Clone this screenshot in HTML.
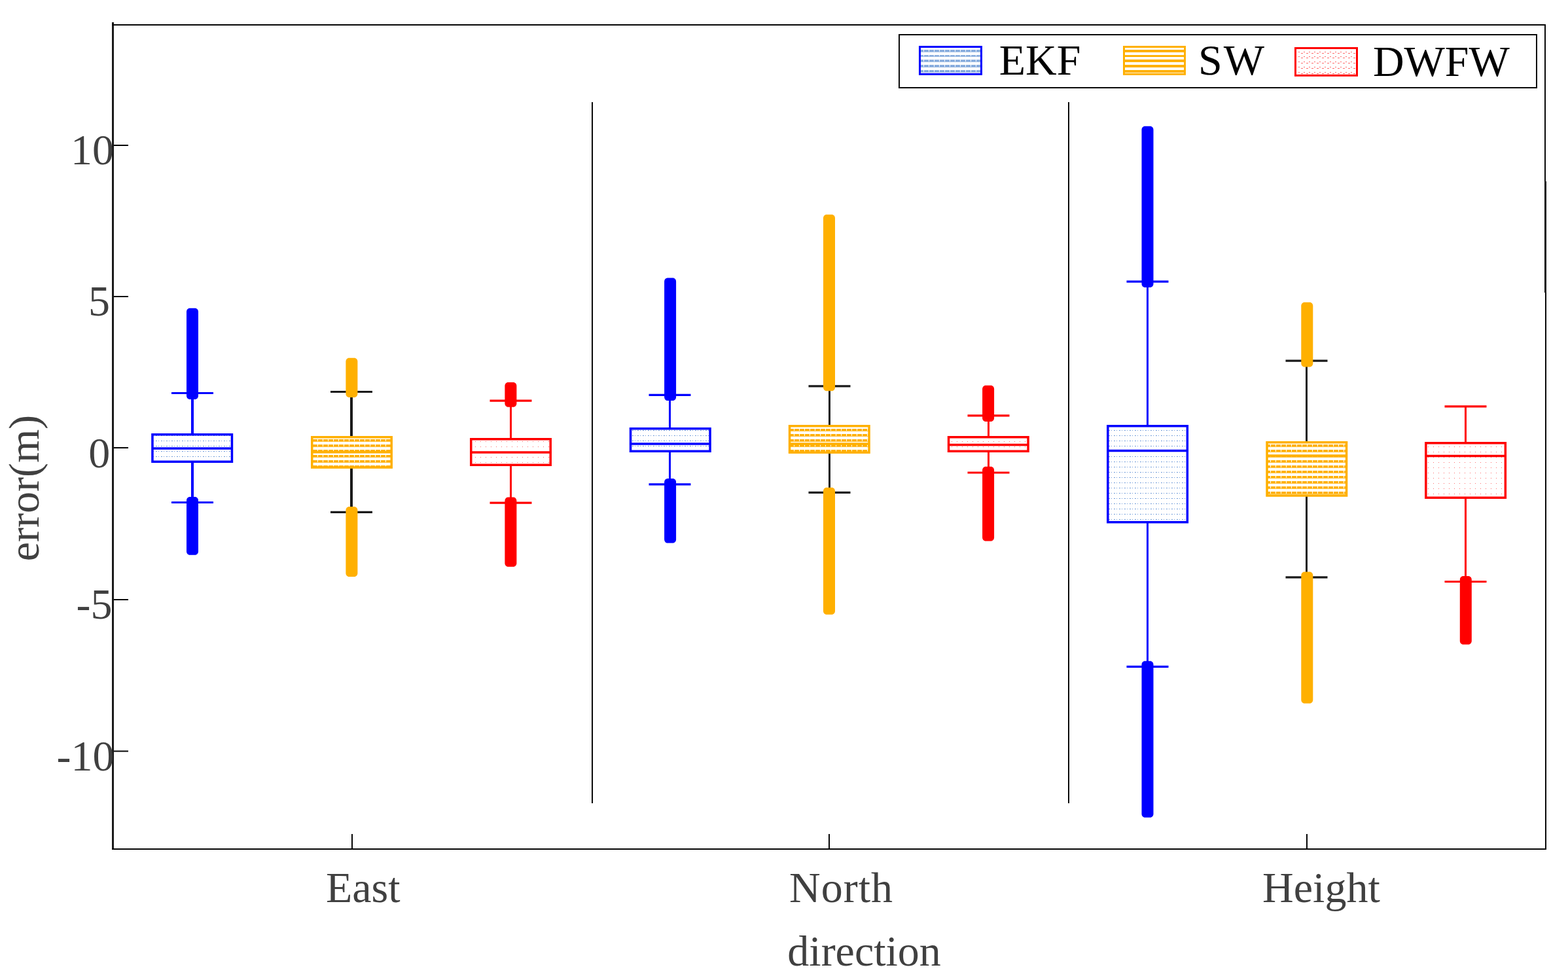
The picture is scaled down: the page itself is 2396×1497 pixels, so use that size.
<!DOCTYPE html><html><head><meta charset="utf-8"><title>error box plot</title>
<style>html,body{margin:0;padding:0;background:#fff;overflow:hidden}svg{display:block}text{font-family:"Liberation Serif","Times New Roman",serif}</style></head><body>
<svg width="2396" height="1497" viewBox="0 0 2396 1497">
<defs>
<pattern id="pE" patternUnits="userSpaceOnUse" x="0" y="1" width="8" height="8"><rect x="6" y="0" width="2" height="1" fill="#6f9bd9"/><rect x="2" y="0" width="1" height="1" fill="#6f9bd9"/></pattern>
<pattern id="pS" patternUnits="userSpaceOnUse" x="0" y="7" width="8" height="8"><rect x="0" y="0" width="8" height="3.75" fill="#ffb000"/><rect x="5" y="0" width="1" height="3" fill="#fff"/></pattern>
<pattern id="pD" patternUnits="userSpaceOnUse" x="6" y="2" width="8" height="8"><rect x="0" y="0" width="1" height="1" fill="#ff6b6b"/></pattern>
</defs>
<rect x="0" y="0" width="2396" height="1497" fill="#fff"/>
<rect x="904" y="156" width="2" height="1071" fill="#0a0a0a"/>
<rect x="1632" y="156" width="2" height="1071" fill="#0a0a0a"/>
<rect x="292.0" y="600.5" width="4" height="63.25" fill="#0000ff"/>
<rect x="292.0" y="705.25" width="4" height="62.25" fill="#0000ff"/>
<line x1="262.0" y1="600.5" x2="326.0" y2="600.5" stroke="#0000ff" stroke-width="3.2"/>
<line x1="262.0" y1="767.5" x2="326.0" y2="767.5" stroke="#0000ff" stroke-width="3.2"/>
<rect x="232.95" y="663.75" width="121.5" height="41.5" fill="url(#pE)"/>
<line x1="232.95" y1="685.0" x2="354.45" y2="685.0" stroke="#0000ff" stroke-width="3.5"/>
<rect x="232.95" y="663.75" width="121.5" height="41.5" fill="none" stroke="#0000ff" stroke-width="3.5"/>
<path d="M290.00 470.70 L298.00 470.70 C300.76 470.70 303.00 473.16 303.00 476.20 L303.00 604.50 C303.00 607.54 300.76 610.00 298.00 610.00 L290.00 610.00 C287.24 610.00 285.00 607.54 285.00 604.50 L285.00 476.20 C285.00 473.16 287.24 470.70 290.00 470.70 Z" fill="#0000ff"/>
<path d="M290.00 759.00 L298.00 759.00 C300.76 759.00 303.00 761.46 303.00 764.50 L303.00 842.20 C303.00 845.24 300.76 847.70 298.00 847.70 L290.00 847.70 C287.24 847.70 285.00 845.24 285.00 842.20 L285.00 764.50 C285.00 761.46 287.24 759.00 290.00 759.00 Z" fill="#0000ff"/>
<rect x="535.0" y="598.5" width="4" height="69.25" fill="#1a1a1a"/>
<rect x="535.0" y="714.05" width="4" height="68.35000000000002" fill="#1a1a1a"/>
<line x1="505.0" y1="598.5" x2="569.0" y2="598.5" stroke="#1a1a1a" stroke-width="3.2"/>
<line x1="505.0" y1="782.4" x2="569.0" y2="782.4" stroke="#1a1a1a" stroke-width="3.2"/>
<rect x="476.75" y="667.75" width="121.5" height="46.299999999999955" fill="url(#pS)"/>
<line x1="476.75" y1="690.8" x2="598.25" y2="690.8" stroke="#ffb000" stroke-width="3.5"/>
<rect x="476.75" y="667.75" width="121.5" height="46.299999999999955" fill="none" stroke="#ffb000" stroke-width="3.5"/>
<path d="M533.40 546.80 L541.40 546.80 C544.16 546.80 546.40 549.26 546.40 552.30 L546.40 601.50 C546.40 604.54 544.16 607.00 541.40 607.00 L533.40 607.00 C530.64 607.00 528.40 604.54 528.40 601.50 L528.40 552.30 C528.40 549.26 530.64 546.80 533.40 546.80 Z" fill="#ffb000"/>
<path d="M533.40 774.00 L541.40 774.00 C544.16 774.00 546.40 776.46 546.40 779.50 L546.40 875.50 C546.40 878.54 544.16 881.00 541.40 881.00 L533.40 881.00 C530.64 881.00 528.40 878.54 528.40 875.50 L528.40 779.50 C528.40 776.46 530.64 774.00 533.40 774.00 Z" fill="#ffb000"/>
<rect x="779.0" y="612.1" width="3" height="58.64999999999998" fill="#ff0000"/>
<rect x="779.0" y="710.25" width="3" height="57.85000000000002" fill="#ff0000"/>
<line x1="748.5" y1="612.1" x2="812.5" y2="612.1" stroke="#ff0000" stroke-width="3.2"/>
<line x1="748.5" y1="768.1" x2="812.5" y2="768.1" stroke="#ff0000" stroke-width="3.2"/>
<rect x="719.75" y="670.75" width="121.5" height="39.5" fill="url(#pD)"/>
<line x1="719.75" y1="691.0" x2="841.25" y2="691.0" stroke="#ff0000" stroke-width="3.5"/>
<rect x="719.75" y="670.75" width="121.5" height="39.5" fill="none" stroke="#ff0000" stroke-width="3.5"/>
<path d="M776.40 584.00 L784.40 584.00 C787.16 584.00 789.40 586.46 789.40 589.50 L789.40 616.20 C789.40 619.24 787.16 621.70 784.40 621.70 L776.40 621.70 C773.64 621.70 771.40 619.24 771.40 616.20 L771.40 589.50 C771.40 586.46 773.64 584.00 776.40 584.00 Z" fill="#ff0000"/>
<path d="M776.40 759.50 L784.40 759.50 C787.16 759.50 789.40 761.96 789.40 765.00 L789.40 860.30 C789.40 863.34 787.16 865.80 784.40 865.80 L776.40 865.80 C773.64 865.80 771.40 863.34 771.40 860.30 L771.40 765.00 C771.40 761.96 773.64 759.50 776.40 759.50 Z" fill="#ff0000"/>
<rect x="1022.0" y="603.4" width="3" height="51.35000000000002" fill="#0000ff"/>
<rect x="1022.0" y="689.25" width="3" height="50.64999999999998" fill="#0000ff"/>
<line x1="991.5" y1="603.4" x2="1055.5" y2="603.4" stroke="#0000ff" stroke-width="3.2"/>
<line x1="991.5" y1="739.9" x2="1055.5" y2="739.9" stroke="#0000ff" stroke-width="3.2"/>
<rect x="963.55" y="654.75" width="121.5" height="34.5" fill="url(#pE)"/>
<line x1="963.55" y1="678.0" x2="1085.05" y2="678.0" stroke="#0000ff" stroke-width="3.5"/>
<rect x="963.55" y="654.75" width="121.5" height="34.5" fill="none" stroke="#0000ff" stroke-width="3.5"/>
<path d="M1020.10 424.40 L1028.10 424.40 C1030.86 424.40 1033.10 426.86 1033.10 429.90 L1033.10 606.50 C1033.10 609.54 1030.86 612.00 1028.10 612.00 L1020.10 612.00 C1017.34 612.00 1015.10 609.54 1015.10 606.50 L1015.10 429.90 C1015.10 426.86 1017.34 424.40 1020.10 424.40 Z" fill="#0000ff"/>
<path d="M1020.10 731.00 L1028.10 731.00 C1030.86 731.00 1033.10 733.46 1033.10 736.50 L1033.10 824.00 C1033.10 827.04 1030.86 829.50 1028.10 829.50 L1020.10 829.50 C1017.34 829.50 1015.10 827.04 1015.10 824.00 L1015.10 736.50 C1015.10 733.46 1017.34 731.00 1020.10 731.00 Z" fill="#0000ff"/>
<rect x="1266.0" y="589.8" width="3" height="60.950000000000045" fill="#1a1a1a"/>
<rect x="1266.0" y="691.15" width="3" height="61.25" fill="#1a1a1a"/>
<line x1="1235.5" y1="589.8" x2="1299.5" y2="589.8" stroke="#1a1a1a" stroke-width="3.2"/>
<line x1="1235.5" y1="752.4" x2="1299.5" y2="752.4" stroke="#1a1a1a" stroke-width="3.2"/>
<rect x="1206.55" y="650.75" width="121.5" height="40.39999999999998" fill="url(#pS)"/>
<line x1="1206.55" y1="678.0" x2="1328.05" y2="678.0" stroke="#ffb000" stroke-width="3.5"/>
<rect x="1206.55" y="650.75" width="121.5" height="40.39999999999998" fill="none" stroke="#ffb000" stroke-width="3.5"/>
<path d="M1263.00 327.80 L1271.00 327.80 C1273.76 327.80 1276.00 330.26 1276.00 333.30 L1276.00 591.80 C1276.00 594.84 1273.76 597.30 1271.00 597.30 L1263.00 597.30 C1260.24 597.30 1258.00 594.84 1258.00 591.80 L1258.00 333.30 C1258.00 330.26 1260.24 327.80 1263.00 327.80 Z" fill="#ffb000"/>
<path d="M1263.00 744.80 L1271.00 744.80 C1273.76 744.80 1276.00 747.26 1276.00 750.30 L1276.00 933.20 C1276.00 936.24 1273.76 938.70 1271.00 938.70 L1263.00 938.70 C1260.24 938.70 1258.00 936.24 1258.00 933.20 L1258.00 750.30 C1258.00 747.26 1260.24 744.80 1263.00 744.80 Z" fill="#ffb000"/>
<rect x="1509.0" y="634.9" width="3" height="32.85000000000002" fill="#ff0000"/>
<rect x="1509.0" y="689.25" width="3" height="32.75" fill="#ff0000"/>
<line x1="1478.5" y1="634.9" x2="1542.5" y2="634.9" stroke="#ff0000" stroke-width="3.2"/>
<line x1="1478.5" y1="722.0" x2="1542.5" y2="722.0" stroke="#ff0000" stroke-width="3.2"/>
<rect x="1449.55" y="667.75" width="121.5" height="21.5" fill="url(#pD)"/>
<line x1="1449.55" y1="679.4" x2="1571.05" y2="679.4" stroke="#ff0000" stroke-width="3.5"/>
<rect x="1449.55" y="667.75" width="121.5" height="21.5" fill="none" stroke="#ff0000" stroke-width="3.5"/>
<path d="M1506.10 588.70 L1514.10 588.70 C1516.86 588.70 1519.10 591.16 1519.10 594.20 L1519.10 638.40 C1519.10 641.44 1516.86 643.90 1514.10 643.90 L1506.10 643.90 C1503.34 643.90 1501.10 641.44 1501.10 638.40 L1501.10 594.20 C1501.10 591.16 1503.34 588.70 1506.10 588.70 Z" fill="#ff0000"/>
<path d="M1506.10 712.80 L1514.10 712.80 C1516.86 712.80 1519.10 715.26 1519.10 718.30 L1519.10 821.00 C1519.10 824.04 1516.86 826.50 1514.10 826.50 L1506.10 826.50 C1503.34 826.50 1501.10 824.04 1501.10 821.00 L1501.10 718.30 C1501.10 715.26 1503.34 712.80 1506.10 712.80 Z" fill="#ff0000"/>
<rect x="1752.0" y="430.2" width="3" height="220.55" fill="#0000ff"/>
<rect x="1752.0" y="797.65" width="3" height="220.64999999999998" fill="#0000ff"/>
<line x1="1721.5" y1="430.2" x2="1785.5" y2="430.2" stroke="#0000ff" stroke-width="3.2"/>
<line x1="1721.5" y1="1018.3" x2="1785.5" y2="1018.3" stroke="#0000ff" stroke-width="3.2"/>
<rect x="1692.85" y="650.75" width="121.5" height="146.89999999999998" fill="url(#pE)"/>
<line x1="1692.85" y1="688.5" x2="1814.35" y2="688.5" stroke="#0000ff" stroke-width="3.5"/>
<rect x="1692.85" y="650.75" width="121.5" height="146.89999999999998" fill="none" stroke="#0000ff" stroke-width="3.5"/>
<path d="M1749.50 192.70 L1757.50 192.70 C1760.26 192.70 1762.50 195.16 1762.50 198.20 L1762.50 433.50 C1762.50 436.54 1760.26 439.00 1757.50 439.00 L1749.50 439.00 C1746.74 439.00 1744.50 436.54 1744.50 433.50 L1744.50 198.20 C1744.50 195.16 1746.74 192.70 1749.50 192.70 Z" fill="#0000ff"/>
<path d="M1749.50 1009.80 L1757.50 1009.80 C1760.26 1009.80 1762.50 1012.26 1762.50 1015.30 L1762.50 1243.20 C1762.50 1246.24 1760.26 1248.70 1757.50 1248.70 L1749.50 1248.70 C1746.74 1248.70 1744.50 1246.24 1744.50 1243.20 L1744.50 1015.30 C1744.50 1012.26 1746.74 1009.80 1749.50 1009.80 Z" fill="#0000ff"/>
<rect x="1995.0" y="551.1" width="3" height="124.64999999999998" fill="#1a1a1a"/>
<rect x="1995.0" y="757.05" width="3" height="124.85000000000002" fill="#1a1a1a"/>
<line x1="1964.5" y1="551.1" x2="2028.5" y2="551.1" stroke="#1a1a1a" stroke-width="3.2"/>
<line x1="1964.5" y1="881.9" x2="2028.5" y2="881.9" stroke="#1a1a1a" stroke-width="3.2"/>
<rect x="1936.05" y="675.75" width="121.50000000000023" height="81.29999999999995" fill="url(#pS)"/>
<line x1="1936.05" y1="696.0" x2="2057.55" y2="696.0" stroke="#ffb000" stroke-width="3.5"/>
<rect x="1936.05" y="675.75" width="121.50000000000023" height="81.29999999999995" fill="none" stroke="#ffb000" stroke-width="3.5"/>
<path d="M1993.30 461.80 L2001.30 461.80 C2004.06 461.80 2006.30 464.26 2006.30 467.30 L2006.30 554.90 C2006.30 557.94 2004.06 560.40 2001.30 560.40 L1993.30 560.40 C1990.54 560.40 1988.30 557.94 1988.30 554.90 L1988.30 467.30 C1988.30 464.26 1990.54 461.80 1993.30 461.80 Z" fill="#ffb000"/>
<path d="M1993.30 873.50 L2001.30 873.50 C2004.06 873.50 2006.30 875.96 2006.30 879.00 L2006.30 1069.00 C2006.30 1072.04 2004.06 1074.50 2001.30 1074.50 L1993.30 1074.50 C1990.54 1074.50 1988.30 1072.04 1988.30 1069.00 L1988.30 879.00 C1988.30 875.96 1990.54 873.50 1993.30 873.50 Z" fill="#ffb000"/>
<rect x="2238.0" y="620.8" width="3" height="55.950000000000045" fill="#ff0000"/>
<rect x="2238.0" y="760.25" width="3" height="128.25" fill="#ff0000"/>
<line x1="2207.5" y1="620.8" x2="2271.5" y2="620.8" stroke="#ff0000" stroke-width="3.2"/>
<line x1="2207.5" y1="888.5" x2="2271.5" y2="888.5" stroke="#ff0000" stroke-width="3.2"/>
<rect x="2178.85" y="676.75" width="121.5" height="83.5" fill="url(#pD)"/>
<line x1="2178.85" y1="696.5" x2="2300.35" y2="696.5" stroke="#ff0000" stroke-width="3.5"/>
<rect x="2178.85" y="676.75" width="121.5" height="83.5" fill="none" stroke="#ff0000" stroke-width="3.5"/>
<path d="M2235.80 879.90 L2243.80 879.90 C2246.56 879.90 2248.80 882.36 2248.80 885.40 L2248.80 979.10 C2248.80 982.14 2246.56 984.60 2243.80 984.60 L2235.80 984.60 C2233.04 984.60 2230.80 982.14 2230.80 979.10 L2230.80 885.40 C2230.80 882.36 2233.04 879.90 2235.80 879.90 Z" fill="#ff0000"/>
<rect x="171" y="34" width="3" height="1264" fill="#1a1a1a"/>
<rect x="171" y="37" width="2191" height="2" fill="#050505"/>
<rect x="171" y="1296" width="2192" height="2" fill="#050505"/>
<rect x="2360" y="37" width="2" height="240" fill="#080808"/>
<rect x="2360" y="277" width="3" height="170" fill="#101010"/>
<rect x="2361" y="447" width="2" height="851" fill="#080808"/>
<rect x="174" y="221.0" width="22" height="2" fill="#050505"/>
<rect x="174" y="452.0" width="22" height="2" fill="#050505"/>
<rect x="174" y="683.0" width="22" height="2" fill="#050505"/>
<rect x="174" y="915.0" width="22" height="2" fill="#050505"/>
<rect x="174" y="1146.5" width="22" height="2" fill="#050505"/>
<rect x="537.0" y="1274" width="2" height="22" fill="#050505"/>
<rect x="1266.0" y="1274" width="2" height="22" fill="#050505"/>
<rect x="1996.0" y="1274" width="2" height="22" fill="#050505"/>
<text x="107.9" y="251" font-size="66" fill="#404040" >10</text>
<text x="135.1" y="482" font-size="66" fill="#404040" >5</text>
<text x="135.3" y="714" font-size="66" fill="#404040" >0</text>
<text x="116.6" y="945" font-size="66" fill="#404040" >-5</text>
<text x="86.6" y="1177" font-size="66" fill="#404040" >-10</text>
<text x="497.9" y="1378" font-size="66" fill="#404040" >East</text>
<text x="1206.1" y="1378" font-size="66" fill="#404040" textLength="158" lengthAdjust="spacing">North</text>
<text x="1929.1" y="1378" font-size="66" fill="#404040" >Height</text>
<text x="1203.3" y="1475" font-size="66" fill="#404040" >direction</text>
<text transform="translate(58.5 857.2) rotate(-90)" x="0" y="0" font-size="66" fill="#404040">error(m)</text>
<rect x="1374" y="53" width="974" height="81" fill="#fff" stroke="#0a0a0a" stroke-width="2"/>
<rect x="1407" y="76.1" width="91" height="3.50" fill="#84aadc"/>
<rect x="1411" y="76.1" width="1" height="2.70" fill="#fff"/>
<rect x="1419" y="76.1" width="1" height="2.70" fill="#fff"/>
<rect x="1427" y="76.1" width="1" height="2.70" fill="#fff"/>
<rect x="1435" y="76.1" width="1" height="2.70" fill="#fff"/>
<rect x="1443" y="76.1" width="1" height="2.70" fill="#fff"/>
<rect x="1451" y="76.1" width="1" height="2.70" fill="#fff"/>
<rect x="1459" y="76.1" width="1" height="2.70" fill="#fff"/>
<rect x="1467" y="76.1" width="1" height="2.70" fill="#fff"/>
<rect x="1475" y="76.1" width="1" height="2.70" fill="#fff"/>
<rect x="1483" y="76.1" width="1" height="2.70" fill="#fff"/>
<rect x="1491" y="76.1" width="1" height="2.70" fill="#fff"/>
<rect x="1407" y="84.1" width="91" height="2.60" fill="#84aadc"/>
<rect x="1411" y="84.1" width="1" height="1.80" fill="#fff"/>
<rect x="1419" y="84.1" width="1" height="1.80" fill="#fff"/>
<rect x="1427" y="84.1" width="1" height="1.80" fill="#fff"/>
<rect x="1435" y="84.1" width="1" height="1.80" fill="#fff"/>
<rect x="1443" y="84.1" width="1" height="1.80" fill="#fff"/>
<rect x="1451" y="84.1" width="1" height="1.80" fill="#fff"/>
<rect x="1459" y="84.1" width="1" height="1.80" fill="#fff"/>
<rect x="1467" y="84.1" width="1" height="1.80" fill="#fff"/>
<rect x="1475" y="84.1" width="1" height="1.80" fill="#fff"/>
<rect x="1483" y="84.1" width="1" height="1.80" fill="#fff"/>
<rect x="1491" y="84.1" width="1" height="1.80" fill="#fff"/>
<rect x="1407" y="91.2" width="91" height="3.50" fill="#84aadc"/>
<rect x="1411" y="91.2" width="1" height="2.70" fill="#fff"/>
<rect x="1419" y="91.2" width="1" height="2.70" fill="#fff"/>
<rect x="1427" y="91.2" width="1" height="2.70" fill="#fff"/>
<rect x="1435" y="91.2" width="1" height="2.70" fill="#fff"/>
<rect x="1443" y="91.2" width="1" height="2.70" fill="#fff"/>
<rect x="1451" y="91.2" width="1" height="2.70" fill="#fff"/>
<rect x="1459" y="91.2" width="1" height="2.70" fill="#fff"/>
<rect x="1467" y="91.2" width="1" height="2.70" fill="#fff"/>
<rect x="1475" y="91.2" width="1" height="2.70" fill="#fff"/>
<rect x="1483" y="91.2" width="1" height="2.70" fill="#fff"/>
<rect x="1491" y="91.2" width="1" height="2.70" fill="#fff"/>
<rect x="1407" y="99.1" width="91" height="3.70" fill="#84aadc"/>
<rect x="1411" y="99.1" width="1" height="2.90" fill="#fff"/>
<rect x="1419" y="99.1" width="1" height="2.90" fill="#fff"/>
<rect x="1427" y="99.1" width="1" height="2.90" fill="#fff"/>
<rect x="1435" y="99.1" width="1" height="2.90" fill="#fff"/>
<rect x="1443" y="99.1" width="1" height="2.90" fill="#fff"/>
<rect x="1451" y="99.1" width="1" height="2.90" fill="#fff"/>
<rect x="1459" y="99.1" width="1" height="2.90" fill="#fff"/>
<rect x="1467" y="99.1" width="1" height="2.90" fill="#fff"/>
<rect x="1475" y="99.1" width="1" height="2.90" fill="#fff"/>
<rect x="1483" y="99.1" width="1" height="2.90" fill="#fff"/>
<rect x="1491" y="99.1" width="1" height="2.90" fill="#fff"/>
<rect x="1407" y="107.1" width="91" height="3.50" fill="#84aadc"/>
<rect x="1411" y="107.1" width="1" height="2.70" fill="#fff"/>
<rect x="1419" y="107.1" width="1" height="2.70" fill="#fff"/>
<rect x="1427" y="107.1" width="1" height="2.70" fill="#fff"/>
<rect x="1435" y="107.1" width="1" height="2.70" fill="#fff"/>
<rect x="1443" y="107.1" width="1" height="2.70" fill="#fff"/>
<rect x="1451" y="107.1" width="1" height="2.70" fill="#fff"/>
<rect x="1459" y="107.1" width="1" height="2.70" fill="#fff"/>
<rect x="1467" y="107.1" width="1" height="2.70" fill="#fff"/>
<rect x="1475" y="107.1" width="1" height="2.70" fill="#fff"/>
<rect x="1483" y="107.1" width="1" height="2.70" fill="#fff"/>
<rect x="1491" y="107.1" width="1" height="2.70" fill="#fff"/>
<rect x="1405.5" y="71.5" width="94" height="41.8" fill="none" stroke="#0000ff" stroke-width="3"/>
<rect x="1719" y="76.0" width="90" height="3.90" fill="#ffb000"/>
<rect x="1719" y="84.1" width="90" height="2.90" fill="#ffb000"/>
<rect x="1719" y="90.9" width="90" height="4.00" fill="#ffb000"/>
<rect x="1719" y="99.0" width="90" height="4.00" fill="#ffb000"/>
<rect x="1719" y="107.0" width="90" height="3.90" fill="#ffb000"/>
<rect x="1717.5" y="71.5" width="93" height="41.8" fill="none" stroke="#ffb000" stroke-width="3"/>
<rect x="1984" y="79" width="2" height="1" fill="#ff6b6b"/>
<rect x="1992" y="79" width="2" height="1" fill="#ff6b6b"/>
<rect x="1988" y="81" width="3" height="1" fill="#ff6b6b"/>
<rect x="2000" y="79" width="2" height="1" fill="#ff6b6b"/>
<rect x="1996" y="81" width="3" height="1" fill="#ff6b6b"/>
<rect x="2008" y="79" width="2" height="1" fill="#ff6b6b"/>
<rect x="2004" y="81" width="3" height="1" fill="#ff6b6b"/>
<rect x="2016" y="79" width="2" height="1" fill="#ff6b6b"/>
<rect x="2012" y="81" width="3" height="1" fill="#ff6b6b"/>
<rect x="2024" y="79" width="2" height="1" fill="#ff6b6b"/>
<rect x="2020" y="81" width="3" height="1" fill="#ff6b6b"/>
<rect x="2032" y="79" width="2" height="1" fill="#ff6b6b"/>
<rect x="2028" y="81" width="3" height="1" fill="#ff6b6b"/>
<rect x="2040" y="79" width="2" height="1" fill="#ff6b6b"/>
<rect x="2036" y="81" width="3" height="1" fill="#ff6b6b"/>
<rect x="2048" y="79" width="2" height="1" fill="#ff6b6b"/>
<rect x="2044" y="81" width="3" height="1" fill="#ff6b6b"/>
<rect x="2056" y="79" width="2" height="1" fill="#ff6b6b"/>
<rect x="2052" y="81" width="3" height="1" fill="#ff6b6b"/>
<rect x="2064" y="79" width="2" height="1" fill="#ff6b6b"/>
<rect x="2060" y="81" width="3" height="1" fill="#ff6b6b"/>
<rect x="2068" y="81" width="3" height="1" fill="#ff6b6b"/>
<rect x="1984" y="86" width="2" height="1" fill="#ff6b6b"/>
<rect x="1992" y="86" width="2" height="1" fill="#ff6b6b"/>
<rect x="1988" y="88" width="3" height="1" fill="#ff6b6b"/>
<rect x="2000" y="86" width="2" height="1" fill="#ff6b6b"/>
<rect x="1996" y="88" width="3" height="1" fill="#ff6b6b"/>
<rect x="2008" y="86" width="2" height="1" fill="#ff6b6b"/>
<rect x="2004" y="88" width="3" height="1" fill="#ff6b6b"/>
<rect x="2016" y="86" width="2" height="1" fill="#ff6b6b"/>
<rect x="2012" y="88" width="3" height="1" fill="#ff6b6b"/>
<rect x="2024" y="86" width="2" height="1" fill="#ff6b6b"/>
<rect x="2020" y="88" width="3" height="1" fill="#ff6b6b"/>
<rect x="2032" y="86" width="2" height="1" fill="#ff6b6b"/>
<rect x="2028" y="88" width="3" height="1" fill="#ff6b6b"/>
<rect x="2040" y="86" width="2" height="1" fill="#ff6b6b"/>
<rect x="2036" y="88" width="3" height="1" fill="#ff6b6b"/>
<rect x="2048" y="86" width="2" height="1" fill="#ff6b6b"/>
<rect x="2044" y="88" width="3" height="1" fill="#ff6b6b"/>
<rect x="2056" y="86" width="2" height="1" fill="#ff6b6b"/>
<rect x="2052" y="88" width="3" height="1" fill="#ff6b6b"/>
<rect x="2064" y="86" width="2" height="1" fill="#ff6b6b"/>
<rect x="2060" y="88" width="3" height="1" fill="#ff6b6b"/>
<rect x="2068" y="88" width="3" height="1" fill="#ff6b6b"/>
<rect x="1984" y="94" width="2" height="1" fill="#ff6b6b"/>
<rect x="1992" y="94" width="2" height="1" fill="#ff6b6b"/>
<rect x="1988" y="96" width="3" height="1" fill="#ff6b6b"/>
<rect x="2000" y="94" width="2" height="1" fill="#ff6b6b"/>
<rect x="1996" y="96" width="3" height="1" fill="#ff6b6b"/>
<rect x="2008" y="94" width="2" height="1" fill="#ff6b6b"/>
<rect x="2004" y="96" width="3" height="1" fill="#ff6b6b"/>
<rect x="2016" y="94" width="2" height="1" fill="#ff6b6b"/>
<rect x="2012" y="96" width="3" height="1" fill="#ff6b6b"/>
<rect x="2024" y="94" width="2" height="1" fill="#ff6b6b"/>
<rect x="2020" y="96" width="3" height="1" fill="#ff6b6b"/>
<rect x="2032" y="94" width="2" height="1" fill="#ff6b6b"/>
<rect x="2028" y="96" width="3" height="1" fill="#ff6b6b"/>
<rect x="2040" y="94" width="2" height="1" fill="#ff6b6b"/>
<rect x="2036" y="96" width="3" height="1" fill="#ff6b6b"/>
<rect x="2048" y="94" width="2" height="1" fill="#ff6b6b"/>
<rect x="2044" y="96" width="3" height="1" fill="#ff6b6b"/>
<rect x="2056" y="94" width="2" height="1" fill="#ff6b6b"/>
<rect x="2052" y="96" width="3" height="1" fill="#ff6b6b"/>
<rect x="2064" y="94" width="2" height="1" fill="#ff6b6b"/>
<rect x="2060" y="96" width="3" height="1" fill="#ff6b6b"/>
<rect x="2068" y="96" width="3" height="1" fill="#ff6b6b"/>
<rect x="1984" y="102" width="2" height="1" fill="#ff6b6b"/>
<rect x="1992" y="102" width="2" height="1" fill="#ff6b6b"/>
<rect x="1988" y="104" width="3" height="1" fill="#ff6b6b"/>
<rect x="2000" y="102" width="2" height="1" fill="#ff6b6b"/>
<rect x="1996" y="104" width="3" height="1" fill="#ff6b6b"/>
<rect x="2008" y="102" width="2" height="1" fill="#ff6b6b"/>
<rect x="2004" y="104" width="3" height="1" fill="#ff6b6b"/>
<rect x="2016" y="102" width="2" height="1" fill="#ff6b6b"/>
<rect x="2012" y="104" width="3" height="1" fill="#ff6b6b"/>
<rect x="2024" y="102" width="2" height="1" fill="#ff6b6b"/>
<rect x="2020" y="104" width="3" height="1" fill="#ff6b6b"/>
<rect x="2032" y="102" width="2" height="1" fill="#ff6b6b"/>
<rect x="2028" y="104" width="3" height="1" fill="#ff6b6b"/>
<rect x="2040" y="102" width="2" height="1" fill="#ff6b6b"/>
<rect x="2036" y="104" width="3" height="1" fill="#ff6b6b"/>
<rect x="2048" y="102" width="2" height="1" fill="#ff6b6b"/>
<rect x="2044" y="104" width="3" height="1" fill="#ff6b6b"/>
<rect x="2056" y="102" width="2" height="1" fill="#ff6b6b"/>
<rect x="2052" y="104" width="3" height="1" fill="#ff6b6b"/>
<rect x="2064" y="102" width="2" height="1" fill="#ff6b6b"/>
<rect x="2060" y="104" width="3" height="1" fill="#ff6b6b"/>
<rect x="2068" y="104" width="3" height="1" fill="#ff6b6b"/>
<rect x="1984" y="110" width="2" height="1" fill="#ff6b6b"/>
<rect x="1992" y="110" width="2" height="1" fill="#ff6b6b"/>
<rect x="1988" y="112" width="3" height="1" fill="#ff6b6b"/>
<rect x="2000" y="110" width="2" height="1" fill="#ff6b6b"/>
<rect x="1996" y="112" width="3" height="1" fill="#ff6b6b"/>
<rect x="2008" y="110" width="2" height="1" fill="#ff6b6b"/>
<rect x="2004" y="112" width="3" height="1" fill="#ff6b6b"/>
<rect x="2016" y="110" width="2" height="1" fill="#ff6b6b"/>
<rect x="2012" y="112" width="3" height="1" fill="#ff6b6b"/>
<rect x="2024" y="110" width="2" height="1" fill="#ff6b6b"/>
<rect x="2020" y="112" width="3" height="1" fill="#ff6b6b"/>
<rect x="2032" y="110" width="2" height="1" fill="#ff6b6b"/>
<rect x="2028" y="112" width="3" height="1" fill="#ff6b6b"/>
<rect x="2040" y="110" width="2" height="1" fill="#ff6b6b"/>
<rect x="2036" y="112" width="3" height="1" fill="#ff6b6b"/>
<rect x="2048" y="110" width="2" height="1" fill="#ff6b6b"/>
<rect x="2044" y="112" width="3" height="1" fill="#ff6b6b"/>
<rect x="2056" y="110" width="2" height="1" fill="#ff6b6b"/>
<rect x="2052" y="112" width="3" height="1" fill="#ff6b6b"/>
<rect x="2064" y="110" width="2" height="1" fill="#ff6b6b"/>
<rect x="2060" y="112" width="3" height="1" fill="#ff6b6b"/>
<rect x="2068" y="112" width="3" height="1" fill="#ff6b6b"/>
<rect x="1979.5" y="73.5" width="94" height="41.8" fill="none" stroke="#ff0000" stroke-width="3"/>
<text x="1526.7" y="113.5" font-size="66" fill="#000" >EKF</text>
<text x="1831.1" y="114.3" font-size="66" fill="#000" textLength="101" lengthAdjust="spacing">SW</text>
<text x="2097.9" y="116" font-size="66" fill="#000" >DWFW</text>
</svg></body></html>
